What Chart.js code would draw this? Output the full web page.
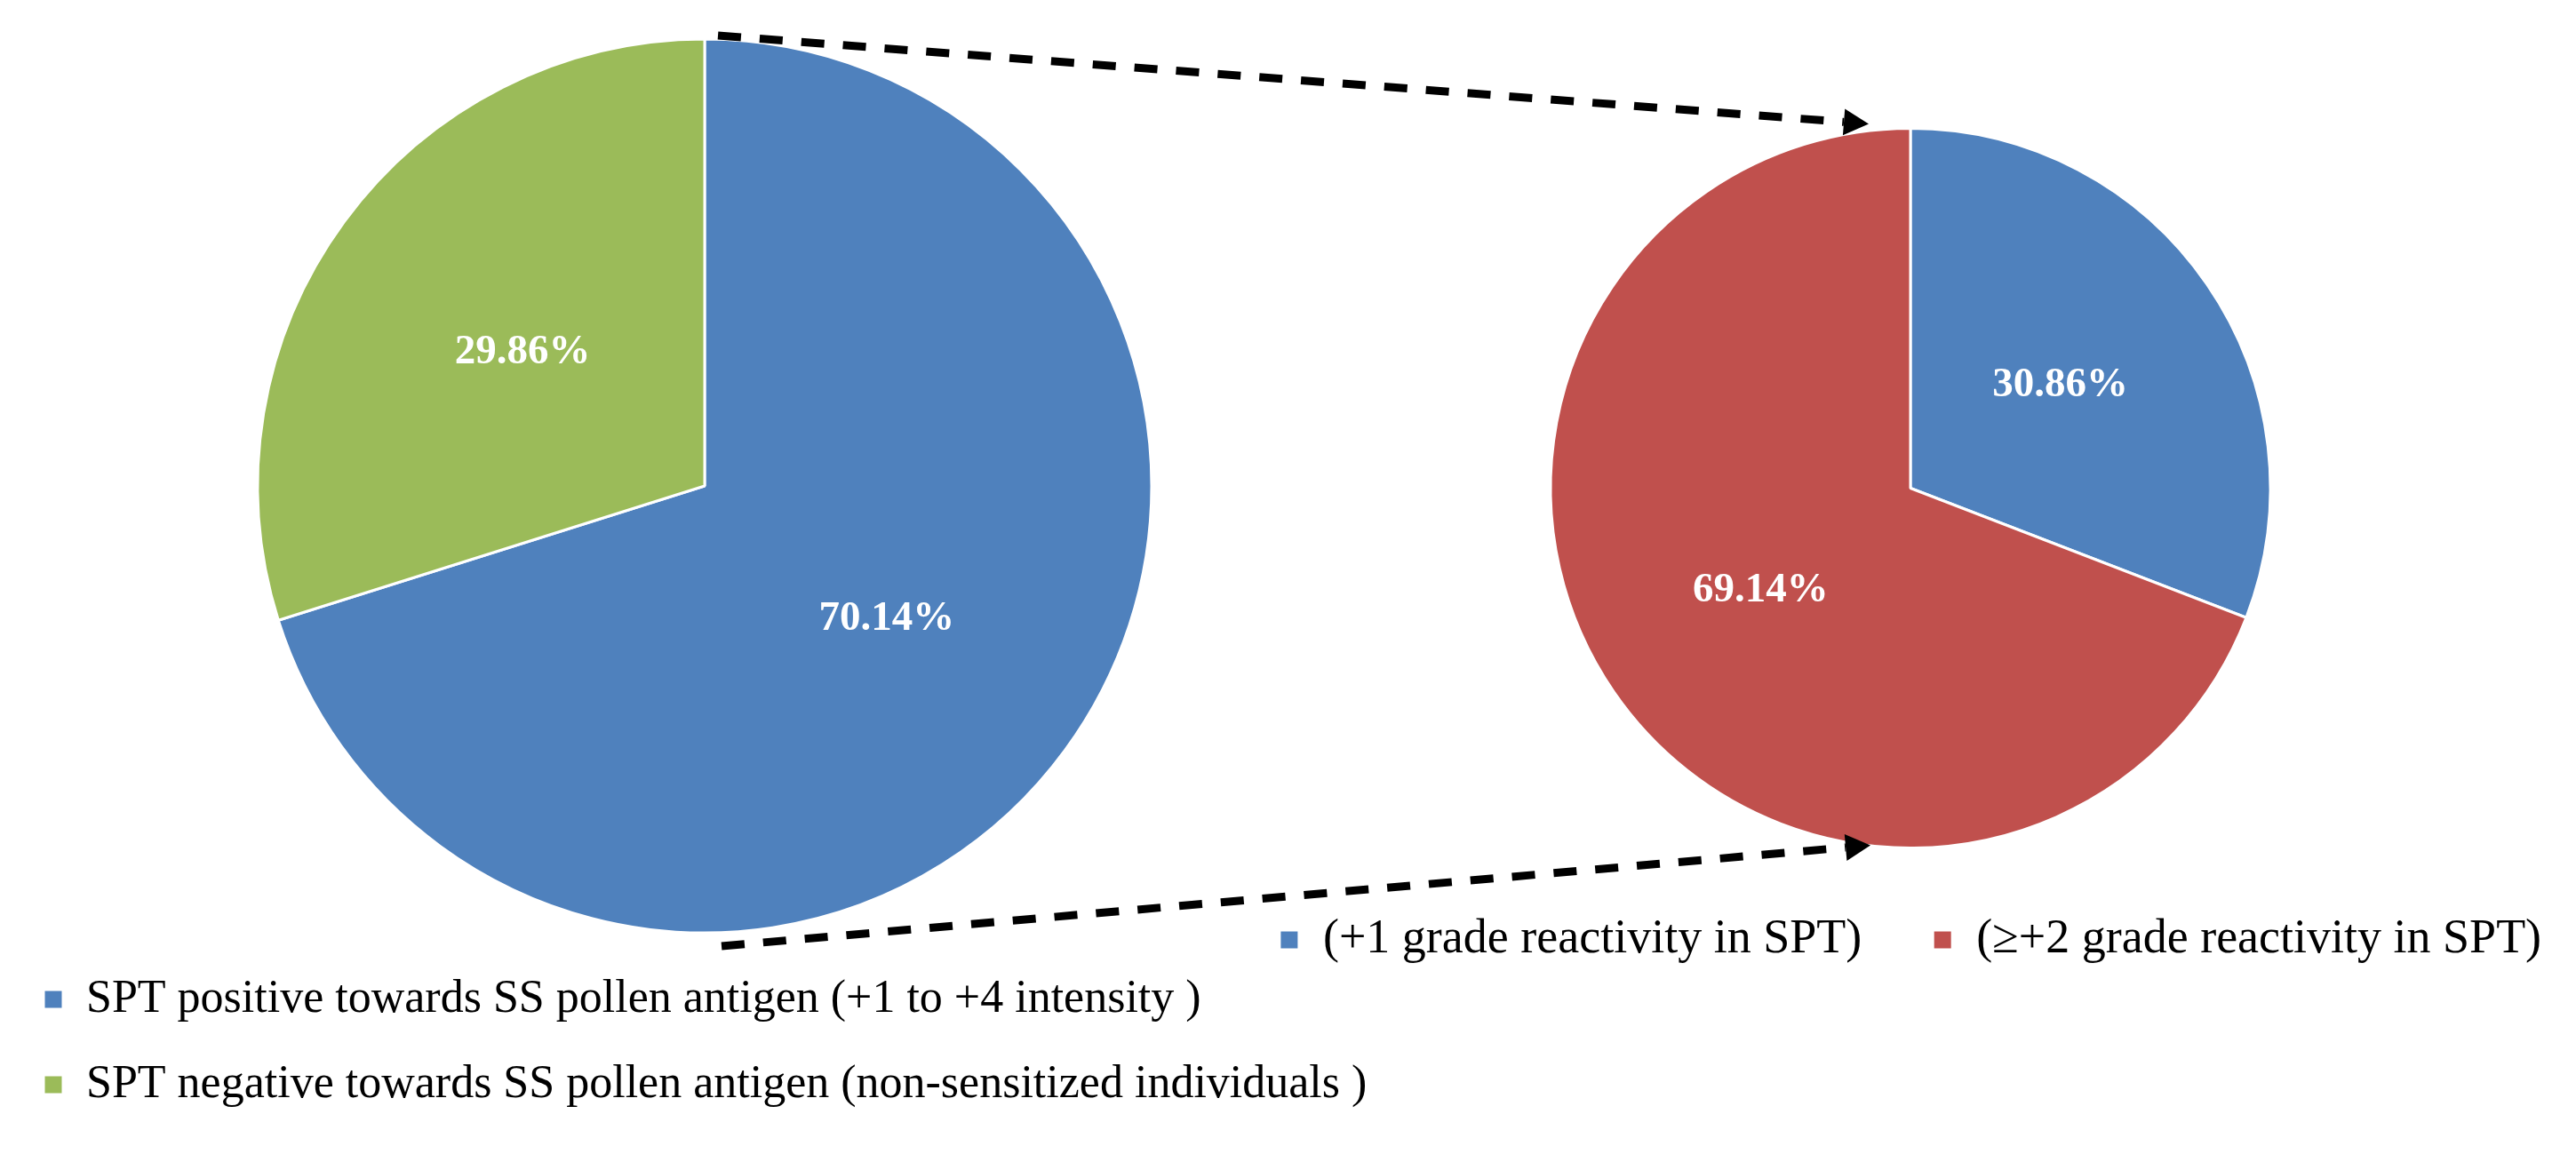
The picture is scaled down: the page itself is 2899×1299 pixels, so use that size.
<!DOCTYPE html>
<html>
<head>
<meta charset="utf-8">
<script src="https://cdn.jsdelivr.net/npm/chart.js@4.4.1/dist/chart.umd.min.js"></script>
<style>
    html, body { margin: 0; padding: 0; background: #fff; overflow: hidden; }
    #wrap { position: relative; width: 2899px; height: 1299px; overflow: hidden; }
    canvas { position: absolute; top: 0; }
    #leftPie { left: 0; }
    #rightPie { left: 1250px; }
    #arrows { left: 0; pointer-events: none; }
</style>
</head>
<body>
<div id="wrap">
    <canvas id="leftPie" width="1581" height="1299"></canvas>
    <canvas id="rightPie" width="1800" height="1299"></canvas>
    <canvas id="arrows" width="2899" height="1299"></canvas>
</div>
<script>
const sptLabels = ['SPT positive towards SS pollen antigen (+1 to +4 intensity )', 'SPT negative towards SS pollen antigen (non-sensitized individuals )'];
const sptValues = [70.14, 29.86];
const sptColors = ['#4F81BD', '#9BBB59'];

const gradeLabels = ['(+1 grade reactivity in SPT)', '(\u2265+2 grade reactivity in SPT)'];
const gradeValues = [30.86, 69.14];
const gradeColors = ['#4F81BD', '#C0504D'];

const serif = '"Liberation Serif", "DejaVu Serif", serif';

// white percentage text halfway out along each slice
const sliceLabels = {
    id: 'sliceLabels',
    afterDatasetsDraw(chart) {
        const ctx = chart.ctx;
        const meta = chart.getDatasetMeta(0);
        const values = chart.data.datasets[0].data;
        ctx.save();
        ctx.fillStyle = '#fff';
        ctx.font = 'bold 47px ' + serif;
        ctx.textAlign = 'center';
        ctx.textBaseline = 'middle';
        meta.data.forEach((arc, i) => {
            const mid = (arc.startAngle + arc.endAngle) / 2;
            const r = arc.outerRadius * 0.505;
            ctx.fillText(values[i].toFixed(2) + '%', arc.x + Math.cos(mid) * r, arc.y + Math.sin(mid) * r);
        });
        ctx.restore();
    }
};

function pieOptions(radius, padding, fontSize, legendPadding, align) {
    return {
        responsive: false,
        devicePixelRatio: 1,
        animation: false,
        events: [],
        layout: { padding: padding },
        radius: radius,
        plugins: {
            tooltip: { enabled: false },
            legend: {
                position: 'bottom',
                align: align,
                labels: {
                    color: '#000',
                    font: { family: serif, size: fontSize },
                    boxWidth: 22,
                    boxHeight: 22,
                    padding: legendPadding
                }
            }
        }
    };
}

const leftChart = new Chart(document.getElementById('leftPie').getContext('2d'), {
    type: 'pie',
    data: {
        labels: sptLabels,
        datasets: [{ data: sptValues, backgroundColor: sptColors, borderColor: '#fff', borderWidth: 3, clip: false }]
    },
    options: pieOptions(503, { top: 39, bottom: 42, left: 5, right: 0 }, 52, 44, 'start'),
    plugins: [sliceLabels]
});

const rightChart = new Chart(document.getElementById('rightPie').getContext('2d'), {
    type: 'pie',
    data: {
        labels: gradeLabels,
        datasets: [{ data: gradeValues, backgroundColor: gradeColors, borderColor: '#fff', borderWidth: 3, clip: false }]
    },
    options: pieOptions(405, { top: 148, bottom: 204, left: 0, right: 0 }, 54, 80, 'center'),
    plugins: [sliceLabels]
});

// dashed connector arrows from the big pie to the breakdown pie
function drawArrow(ctx, x1, y1, x2, y2) {
    const ang = Math.atan2(y2 - y1, x2 - x1);
    const head = 28;
    const bx = x2 - Math.cos(ang) * head;
    const by = y2 - Math.sin(ang) * head;
    ctx.save();
    ctx.strokeStyle = '#000';
    ctx.lineWidth = 9;
    ctx.setLineDash([26, 21]);
    ctx.beginPath();
    ctx.moveTo(x1, y1);
    ctx.lineTo(bx, by);
    ctx.stroke();
    ctx.setLineDash([]);
    ctx.fillStyle = '#000';
    ctx.beginPath();
    ctx.moveTo(x2, y2);
    ctx.lineTo(bx + Math.sin(ang) * 15, by - Math.cos(ang) * 15);
    ctx.lineTo(bx - Math.sin(ang) * 15, by + Math.cos(ang) * 15);
    ctx.closePath();
    ctx.fill();
    ctx.restore();
}

const big = leftChart.getDatasetMeta(0).data[0];
const small = rightChart.getDatasetMeta(0).data[0];
const rightLeft = 1250;
const arrowCtx = document.getElementById('arrows').getContext('2d');
drawArrow(arrowCtx, big.x + 15, big.y - big.outerRadius - 4, rightLeft + small.x - 47, small.y - small.outerRadius - 5);
drawArrow(arrowCtx, big.x + 19, big.y + big.outerRadius + 15, rightLeft + small.x - 45, small.y + small.outerRadius - 3);
</script>
</body>
</html>
